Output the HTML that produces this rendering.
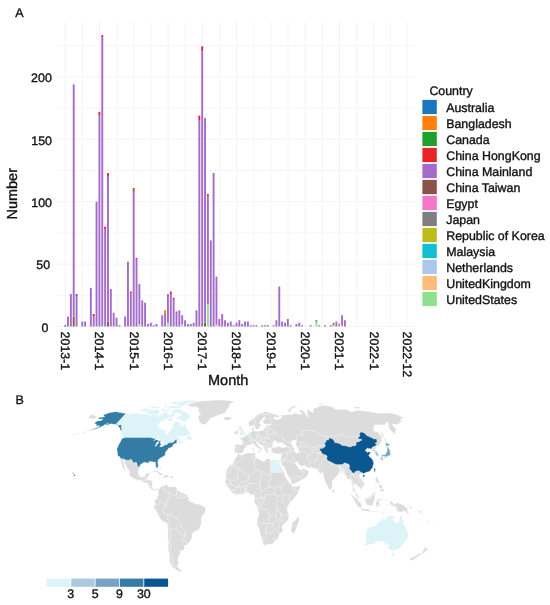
<!DOCTYPE html>
<html><head><meta charset="utf-8"><style>
html,body{margin:0;padding:0;background:#fff;}
svg{display:block;}
text{font-family:"Liberation Sans",Arial,sans-serif;fill:#111;stroke:#111;stroke-width:0.35px;text-rendering:geometricPrecision;}
</style></head><body>
<svg width="550" height="605" viewBox="0 0 550 605">
<rect width="550" height="605" fill="#fff"/>
<line x1="57.0" x2="415.0" y1="326.5" y2="326.5" stroke="#f3f3f3" stroke-width="1"/>
<line x1="57.0" x2="415.0" y1="295.3" y2="295.3" stroke="#f6f6f6" stroke-width="1"/>
<line x1="57.0" x2="415.0" y1="264.1" y2="264.1" stroke="#f3f3f3" stroke-width="1"/>
<line x1="57.0" x2="415.0" y1="232.9" y2="232.9" stroke="#f6f6f6" stroke-width="1"/>
<line x1="57.0" x2="415.0" y1="201.7" y2="201.7" stroke="#f3f3f3" stroke-width="1"/>
<line x1="57.0" x2="415.0" y1="170.5" y2="170.5" stroke="#f6f6f6" stroke-width="1"/>
<line x1="57.0" x2="415.0" y1="139.3" y2="139.3" stroke="#f3f3f3" stroke-width="1"/>
<line x1="57.0" x2="415.0" y1="108.1" y2="108.1" stroke="#f6f6f6" stroke-width="1"/>
<line x1="57.0" x2="415.0" y1="76.9" y2="76.9" stroke="#f3f3f3" stroke-width="1"/>
<line x1="57.0" x2="415.0" y1="45.7" y2="45.7" stroke="#f6f6f6" stroke-width="1"/>
<line x1="65.4" x2="65.4" y1="21.5" y2="326.5" stroke="#f3f3f3" stroke-width="1"/>
<line x1="99.66" x2="99.66" y1="21.5" y2="326.5" stroke="#f3f3f3" stroke-width="1"/>
<line x1="133.92" x2="133.92" y1="21.5" y2="326.5" stroke="#f3f3f3" stroke-width="1"/>
<line x1="168.18" x2="168.18" y1="21.5" y2="326.5" stroke="#f3f3f3" stroke-width="1"/>
<line x1="202.44" x2="202.44" y1="21.5" y2="326.5" stroke="#f3f3f3" stroke-width="1"/>
<line x1="236.7" x2="236.7" y1="21.5" y2="326.5" stroke="#f3f3f3" stroke-width="1"/>
<line x1="270.96" x2="270.96" y1="21.5" y2="326.5" stroke="#f3f3f3" stroke-width="1"/>
<line x1="305.22" x2="305.22" y1="21.5" y2="326.5" stroke="#f3f3f3" stroke-width="1"/>
<line x1="339.48" x2="339.48" y1="21.5" y2="326.5" stroke="#f3f3f3" stroke-width="1"/>
<line x1="373.74" x2="373.74" y1="21.5" y2="326.5" stroke="#f3f3f3" stroke-width="1"/>
<line x1="407.1" x2="407.1" y1="21.5" y2="326.5" stroke="#f3f3f3" stroke-width="1"/>
<line x1="82.53" x2="82.53" y1="21.5" y2="326.5" stroke="#f6f6f6" stroke-width="1"/>
<line x1="116.79" x2="116.79" y1="21.5" y2="326.5" stroke="#f6f6f6" stroke-width="1"/>
<line x1="151.05" x2="151.05" y1="21.5" y2="326.5" stroke="#f6f6f6" stroke-width="1"/>
<line x1="185.31" x2="185.31" y1="21.5" y2="326.5" stroke="#f6f6f6" stroke-width="1"/>
<line x1="219.57" x2="219.57" y1="21.5" y2="326.5" stroke="#f6f6f6" stroke-width="1"/>
<line x1="253.83" x2="253.83" y1="21.5" y2="326.5" stroke="#f6f6f6" stroke-width="1"/>
<line x1="288.09" x2="288.09" y1="21.5" y2="326.5" stroke="#f6f6f6" stroke-width="1"/>
<line x1="322.35" x2="322.35" y1="21.5" y2="326.5" stroke="#f6f6f6" stroke-width="1"/>
<line x1="356.61" x2="356.61" y1="21.5" y2="326.5" stroke="#f6f6f6" stroke-width="1"/>
<line x1="390.42" x2="390.42" y1="21.5" y2="326.5" stroke="#f6f6f6" stroke-width="1"/>
<rect x="64.2" y="325.25" width="1.9" height="1.25" fill="#1a76bd"/>
<rect x="67.05" y="316.52" width="1.9" height="9.98" fill="#a46bcb"/>
<rect x="69.91" y="294.05" width="1.9" height="32.45" fill="#a46bcb"/>
<rect x="72.76" y="316.52" width="1.9" height="9.98" fill="#8c5249"/>
<rect x="72.76" y="84.39" width="1.9" height="232.13" fill="#a46bcb"/>
<rect x="75.62" y="295.92" width="1.9" height="30.58" fill="#a46bcb"/>
<rect x="75.62" y="294.05" width="1.9" height="1.87" fill="#1a76bd"/>
<rect x="81.33" y="321.51" width="1.9" height="4.99" fill="#a46bcb"/>
<rect x="84.18" y="321.51" width="1.9" height="4.99" fill="#a46bcb"/>
<rect x="89.89" y="287.81" width="1.9" height="38.69" fill="#a46bcb"/>
<rect x="92.75" y="316.52" width="1.9" height="9.98" fill="#a46bcb"/>
<rect x="92.75" y="314.02" width="1.9" height="2.5" fill="#e8232a"/>
<rect x="95.6" y="201.7" width="1.9" height="124.8" fill="#a46bcb"/>
<rect x="98.46" y="115.59" width="1.9" height="210.91" fill="#a46bcb"/>
<rect x="98.46" y="111.84" width="1.9" height="3.74" fill="#e8232a"/>
<rect x="101.31" y="325.25" width="1.9" height="1.25" fill="#12bfd2"/>
<rect x="101.31" y="36.96" width="1.9" height="288.29" fill="#a46bcb"/>
<rect x="101.31" y="35.09" width="1.9" height="1.87" fill="#e8232a"/>
<rect x="104.17" y="229.16" width="1.9" height="97.34" fill="#a46bcb"/>
<rect x="104.17" y="226.66" width="1.9" height="2.5" fill="#e8232a"/>
<rect x="107.02" y="321.51" width="1.9" height="4.99" fill="#8c5249"/>
<rect x="107.02" y="176.74" width="1.9" height="144.77" fill="#a46bcb"/>
<rect x="107.02" y="173" width="1.9" height="3.74" fill="#e8232a"/>
<rect x="109.88" y="289.06" width="1.9" height="37.44" fill="#a46bcb"/>
<rect x="112.73" y="312.77" width="1.9" height="13.73" fill="#a46bcb"/>
<rect x="115.59" y="317.76" width="1.9" height="8.74" fill="#a46bcb"/>
<rect x="118.44" y="325.25" width="1.9" height="1.25" fill="#a46bcb"/>
<rect x="124.15" y="316.52" width="1.9" height="9.98" fill="#a46bcb"/>
<rect x="127.01" y="261.6" width="1.9" height="64.9" fill="#a46bcb"/>
<rect x="129.87" y="293.43" width="1.9" height="33.07" fill="#a46bcb"/>
<rect x="129.87" y="291.56" width="1.9" height="1.87" fill="#e8232a"/>
<rect x="132.72" y="191.72" width="1.9" height="134.78" fill="#a46bcb"/>
<rect x="132.72" y="189.22" width="1.9" height="2.5" fill="#e8232a"/>
<rect x="132.72" y="187.97" width="1.9" height="1.25" fill="#1fa02c"/>
<rect x="135.57" y="259.11" width="1.9" height="67.39" fill="#a46bcb"/>
<rect x="135.57" y="257.86" width="1.9" height="1.25" fill="#e8232a"/>
<rect x="138.43" y="324" width="1.9" height="2.5" fill="#8ee08e"/>
<rect x="138.43" y="284.07" width="1.9" height="39.94" fill="#a46bcb"/>
<rect x="141.28" y="300.29" width="1.9" height="26.21" fill="#a46bcb"/>
<rect x="144.14" y="302.79" width="1.9" height="23.71" fill="#a46bcb"/>
<rect x="147" y="324" width="1.9" height="2.5" fill="#a46bcb"/>
<rect x="149.85" y="322.76" width="1.9" height="3.74" fill="#a46bcb"/>
<rect x="152.7" y="325.25" width="1.9" height="1.25" fill="#a46bcb"/>
<rect x="155.56" y="324" width="1.9" height="2.5" fill="#a46bcb"/>
<rect x="161.27" y="315.27" width="1.9" height="11.23" fill="#a46bcb"/>
<rect x="164.12" y="314.02" width="1.9" height="12.48" fill="#a46bcb"/>
<rect x="164.12" y="310.28" width="1.9" height="3.74" fill="#ff7f0e"/>
<rect x="166.98" y="322.76" width="1.9" height="3.74" fill="#8ee08e"/>
<rect x="166.98" y="294.05" width="1.9" height="28.7" fill="#a46bcb"/>
<rect x="169.84" y="294.05" width="1.9" height="32.45" fill="#a46bcb"/>
<rect x="169.84" y="291.56" width="1.9" height="2.5" fill="#e8232a"/>
<rect x="172.69" y="299.04" width="1.9" height="27.46" fill="#a46bcb"/>
<rect x="172.69" y="297.8" width="1.9" height="1.25" fill="#e8232a"/>
<rect x="175.55" y="312.77" width="1.9" height="13.73" fill="#a46bcb"/>
<rect x="175.55" y="311.52" width="1.9" height="1.25" fill="#e8232a"/>
<rect x="178.4" y="310.28" width="1.9" height="16.22" fill="#a46bcb"/>
<rect x="181.25" y="324" width="1.9" height="2.5" fill="#a9c8ec"/>
<rect x="181.25" y="315.27" width="1.9" height="8.74" fill="#a46bcb"/>
<rect x="184.11" y="320.26" width="1.9" height="6.24" fill="#a46bcb"/>
<rect x="186.97" y="324" width="1.9" height="2.5" fill="#a46bcb"/>
<rect x="189.82" y="324" width="1.9" height="2.5" fill="#a46bcb"/>
<rect x="192.68" y="322.76" width="1.9" height="3.74" fill="#a46bcb"/>
<rect x="195.53" y="310.28" width="1.9" height="16.22" fill="#a46bcb"/>
<rect x="198.38" y="120.58" width="1.9" height="205.92" fill="#a46bcb"/>
<rect x="198.38" y="115.59" width="1.9" height="4.99" fill="#e8232a"/>
<rect x="201.24" y="322.76" width="1.9" height="3.74" fill="#7f7f7f"/>
<rect x="201.24" y="51.32" width="1.9" height="271.44" fill="#a46bcb"/>
<rect x="201.24" y="46.32" width="1.9" height="4.99" fill="#e8232a"/>
<rect x="204.1" y="322.76" width="1.9" height="3.74" fill="#8c5249"/>
<rect x="204.1" y="118.08" width="1.9" height="204.67" fill="#a46bcb"/>
<rect x="206.95" y="304.04" width="1.9" height="22.46" fill="#8ee08e"/>
<rect x="206.95" y="196.71" width="1.9" height="107.33" fill="#a46bcb"/>
<rect x="206.95" y="194.21" width="1.9" height="2.5" fill="#e8232a"/>
<rect x="209.81" y="240.39" width="1.9" height="86.11" fill="#a46bcb"/>
<rect x="212.66" y="173" width="1.9" height="153.5" fill="#a46bcb"/>
<rect x="215.51" y="324.63" width="1.9" height="1.87" fill="#ffbb78"/>
<rect x="215.51" y="276.58" width="1.9" height="48.05" fill="#a46bcb"/>
<rect x="218.37" y="319.01" width="1.9" height="7.49" fill="#a46bcb"/>
<rect x="221.23" y="314.02" width="1.9" height="12.48" fill="#a46bcb"/>
<rect x="224.08" y="320.26" width="1.9" height="6.24" fill="#a46bcb"/>
<rect x="226.94" y="322.76" width="1.9" height="3.74" fill="#a46bcb"/>
<rect x="229.79" y="321.51" width="1.9" height="4.99" fill="#a46bcb"/>
<rect x="232.64" y="325.25" width="1.9" height="1.25" fill="#a46bcb"/>
<rect x="235.5" y="322.76" width="1.9" height="3.74" fill="#a46bcb"/>
<rect x="238.36" y="320.26" width="1.9" height="6.24" fill="#a46bcb"/>
<rect x="241.21" y="324" width="1.9" height="2.5" fill="#a46bcb"/>
<rect x="244.06" y="321.51" width="1.9" height="4.99" fill="#a46bcb"/>
<rect x="246.92" y="321.51" width="1.9" height="4.99" fill="#a46bcb"/>
<rect x="249.77" y="325.25" width="1.9" height="1.25" fill="#a46bcb"/>
<rect x="252.63" y="325.25" width="1.9" height="1.25" fill="#a46bcb"/>
<rect x="255.49" y="325.25" width="1.9" height="1.25" fill="#a46bcb"/>
<rect x="261.19" y="325.25" width="1.9" height="1.25" fill="#a46bcb"/>
<rect x="264.05" y="325.25" width="1.9" height="1.25" fill="#a46bcb"/>
<rect x="266.91" y="325.25" width="1.9" height="1.25" fill="#7f7f7f"/>
<rect x="272.62" y="325.25" width="1.9" height="1.25" fill="#a46bcb"/>
<rect x="275.47" y="320.26" width="1.9" height="6.24" fill="#a46bcb"/>
<rect x="278.32" y="286.56" width="1.9" height="39.94" fill="#a46bcb"/>
<rect x="281.18" y="321.51" width="1.9" height="4.99" fill="#a46bcb"/>
<rect x="284.04" y="322.76" width="1.9" height="3.74" fill="#a46bcb"/>
<rect x="286.89" y="319.01" width="1.9" height="7.49" fill="#a46bcb"/>
<rect x="289.75" y="325.25" width="1.9" height="1.25" fill="#a46bcb"/>
<rect x="295.45" y="324" width="1.9" height="2.5" fill="#a46bcb"/>
<rect x="298.31" y="322.76" width="1.9" height="3.74" fill="#a46bcb"/>
<rect x="301.17" y="325.25" width="1.9" height="1.25" fill="#a46bcb"/>
<rect x="309.73" y="325.25" width="1.9" height="1.25" fill="#a46bcb"/>
<rect x="315.44" y="322.13" width="1.9" height="4.37" fill="#8ee08e"/>
<rect x="315.44" y="321.51" width="1.9" height="0.62" fill="#a46bcb"/>
<rect x="315.44" y="320.26" width="1.9" height="1.25" fill="#1fa02c"/>
<rect x="318.3" y="325.25" width="1.9" height="1.25" fill="#a46bcb"/>
<rect x="324" y="325.25" width="1.9" height="1.25" fill="#a46bcb"/>
<rect x="329.71" y="325.25" width="1.9" height="1.25" fill="#a46bcb"/>
<rect x="332.57" y="325.25" width="1.9" height="1.25" fill="#bcbd1a"/>
<rect x="332.57" y="322.76" width="1.9" height="2.5" fill="#a46bcb"/>
<rect x="335.43" y="321.51" width="1.9" height="4.99" fill="#a46bcb"/>
<rect x="338.28" y="325.25" width="1.9" height="1.25" fill="#bcbd1a"/>
<rect x="338.28" y="323.75" width="1.9" height="1.5" fill="#a46bcb"/>
<rect x="341.13" y="325.25" width="1.9" height="1.25" fill="#bcbd1a"/>
<rect x="341.13" y="315.27" width="1.9" height="9.98" fill="#a46bcb"/>
<rect x="343.99" y="320.26" width="1.9" height="6.24" fill="#a46bcb"/>
<text x="44.9" y="331.83" text-anchor="middle" font-size="12.4">0</text>
<text x="43.25" y="269.43" text-anchor="middle" font-size="12.4">50</text>
<text x="41.6" y="207.03" text-anchor="middle" font-size="12.4">100</text>
<text x="41.6" y="144.63" text-anchor="middle" font-size="12.4">150</text>
<text x="41.45" y="82.23" text-anchor="middle" font-size="12.4">200</text>
<text transform="translate(61.16,331.6) rotate(90)" font-size="12.4">2013-1</text>
<text transform="translate(95.42,331.6) rotate(90)" font-size="12.4">2014-1</text>
<text transform="translate(129.68,331.6) rotate(90)" font-size="12.4">2015-1</text>
<text transform="translate(163.94,331.6) rotate(90)" font-size="12.4">2016-1</text>
<text transform="translate(198.2,331.6) rotate(90)" font-size="12.4">2017-1</text>
<text transform="translate(232.46,331.6) rotate(90)" font-size="12.4">2018-1</text>
<text transform="translate(266.72,331.6) rotate(90)" font-size="12.4">2019-1</text>
<text transform="translate(300.98,331.6) rotate(90)" font-size="12.4">2020-1</text>
<text transform="translate(335.24,331.6) rotate(90)" font-size="12.4">2021-1</text>
<text transform="translate(369.5,331.6) rotate(90)" font-size="12.4">2022-1</text>
<text transform="translate(402.86,331.6) rotate(90)" font-size="12.4">2022-12</text>
<text x="15.3" y="16.5" font-size="12.5">A</text>
<text transform="translate(16.8,193.8) rotate(-90)" text-anchor="middle" font-size="14.5">Number</text>
<text x="228.2" y="385.2" text-anchor="middle" font-size="14.5">Month</text>
<text x="429.4" y="95.2" font-size="12.4">Country</text>
<rect x="422.4" y="99.9" width="14.4" height="14.2" fill="#1a76bd"/>
<text x="446.2" y="112.36" font-size="12.4">Australia</text>
<rect x="422.4" y="115.9" width="14.4" height="14.2" fill="#ff7f0e"/>
<text x="446.2" y="128.36" font-size="12.4">Bangladesh</text>
<rect x="422.4" y="131.9" width="14.4" height="14.2" fill="#1fa02c"/>
<text x="446.2" y="144.36" font-size="12.4">Canada</text>
<rect x="422.4" y="147.9" width="14.4" height="14.2" fill="#e8232a"/>
<text x="446.2" y="160.36" font-size="12.4">China HongKong</text>
<rect x="422.4" y="163.9" width="14.4" height="14.2" fill="#a46bcb"/>
<text x="446.2" y="176.36" font-size="12.4">China Mainland</text>
<rect x="422.4" y="179.9" width="14.4" height="14.2" fill="#8c5249"/>
<text x="446.2" y="192.36" font-size="12.4">China Taiwan</text>
<rect x="422.4" y="195.9" width="14.4" height="14.2" fill="#f575c6"/>
<text x="446.2" y="208.36" font-size="12.4">Egypt</text>
<rect x="422.4" y="211.9" width="14.4" height="14.2" fill="#7f7f7f"/>
<text x="446.2" y="224.36" font-size="12.4">Japan</text>
<rect x="422.4" y="227.9" width="14.4" height="14.2" fill="#bcbd1a"/>
<text x="446.2" y="240.36" font-size="12.4">Republic of Korea</text>
<rect x="422.4" y="243.9" width="14.4" height="14.2" fill="#12bfd2"/>
<text x="446.2" y="256.36" font-size="12.4">Malaysia</text>
<rect x="422.4" y="259.9" width="14.4" height="14.2" fill="#a9c8ec"/>
<text x="446.2" y="272.36" font-size="12.4">Netherlands</text>
<rect x="422.4" y="275.9" width="14.4" height="14.2" fill="#ffbb78"/>
<text x="446.2" y="288.36" font-size="12.4">UnitedKingdom</text>
<rect x="422.4" y="291.9" width="14.4" height="14.2" fill="#8ee08e"/>
<text x="446.2" y="304.36" font-size="12.4">UnitedStates</text>
<path d="M120.7,458.7L120.7,460.0L121.0,461.9L122.1,464.5L121.8,466.0L123.3,468.1L124.0,469.7L125.1,471.1L125.7,470.3L125.1,469.3L124.6,467.7L124.1,464.9L123.9,462.8L122.7,460.9L122.8,459.6L124.2,460.2L124.7,463.2L125.6,465.1L126.6,467.5L127.7,468.4L129.2,470.7L129.5,472.9L129.2,474.8L130.3,476.1L133.0,478.0L135.1,479.2L138.2,480.4L139.9,479.9L141.5,480.5L142.7,481.9L144.0,482.7L146.1,483.2L147.4,483.6L147.9,484.0L148.7,485.1L149.5,486.4L149.2,487.7L150.1,488.0L151.7,489.8L153.3,490.0L155.5,491.0L155.1,489.9L156.1,489.1L157.8,489.9L158.3,491.6L158.2,493.5L158.2,495.4L156.6,498.6L155.3,499.5L154.3,501.8L155.3,503.4L155.0,505.0L153.9,506.6L154.3,508.2L156.1,510.8L158.6,515.3L160.1,517.9L161.7,520.5L165.8,522.8L167.3,524.1L167.6,526.3L168.1,532.7L167.6,536.6L168.6,541.8L168.3,545.6L168.2,549.5L169.3,554.0L169.7,557.2L169.4,561.0L171.1,564.7L173.2,567.8L175.8,569.6L178.2,571.1L181.0,571.9L182.3,570.8L179.3,569.0L178.5,567.8L177.6,566.6L177.9,564.7L178.9,561.6L177.1,560.3L178.6,558.4L178.4,555.9L179.8,555.6L179.1,554.6L180.5,553.0L180.3,550.8L184.3,550.1L184.5,547.6L184.0,545.6L185.5,545.5L188.0,544.3L190.1,541.1L192.2,537.2L191.9,534.0L195.9,530.5L198.6,530.0L200.2,526.6L201.4,523.0L201.2,517.2L203.2,514.7L205.0,512.7L205.5,509.7L205.0,507.3L201.3,505.3L198.6,504.3L194.7,503.7L190.8,501.8L188.6,500.5L188.6,498.2L187.5,495.4L186.4,494.4L183.1,493.0L179.8,491.8L177.1,489.6L175.7,486.8L173.4,486.8L169.0,486.9L166.9,485.1L165.1,484.5L164.1,485.4L162.2,486.0L160.7,487.1L159.7,488.5L158.6,489.5L156.7,488.3L155.0,489.0L153.9,489.0L152.4,487.7L151.7,486.4L152.1,484.5L152.6,481.3L150.8,480.1L147.5,480.2L147.3,479.3L147.7,476.8L148.7,475.5L149.8,472.9L148.5,472.9L145.9,473.5L145.4,475.5L144.1,476.8L141.3,477.1L139.8,476.4L138.9,475.1L138.4,472.9L138.3,471.0L138.9,469.0L139.6,467.2L137.6,466.4L137.0,464.1L136.3,462.2L134.9,462.3L134.0,463.2L132.9,462.3L131.6,459.6L129.8,459.6L129.6,460.2L126.6,460.2L123.1,458.7Z" fill="#dcdcdc" stroke="#ffffff" stroke-width="0.3" stroke-linejoin="round"/>
<path d="M204.4,424.5L206.0,423.7L208.5,420.8L211.0,418.0L214.7,416.8L218.6,415.0L223.1,413.5L225.7,412.5L226.1,410.3L228.0,408.3L229.6,406.3L229.5,404.3L231.3,402.9L235.2,401.5L229.5,400.8L222.6,400.0L215.4,400.1L207.8,400.8L200.2,401.2L195.9,402.0L193.0,402.9L188.2,404.3L188.0,405.8L192.1,406.7L196.8,406.7L198.5,408.3L198.4,410.3L199.1,412.5L201.0,414.1L198.1,416.3L198.2,418.5L199.0,420.2L199.6,422.5L201.5,423.7Z" fill="#dcdcdc" stroke="#ffffff" stroke-width="0.3" stroke-linejoin="round"/>
<path d="M224.6,419.9L223.2,418.0L225.1,417.0L230.2,416.8L231.4,418.0L231.3,419.1L228.1,420.3Z" fill="#dcdcdc" stroke="#ffffff" stroke-width="0.3" stroke-linejoin="round"/>
<path d="M151.8,472.4L153.1,471.3L155.3,470.8L157.5,471.0L160.0,472.5L161.8,473.4L163.4,474.6L162.4,475.0L159.4,475.0L159.2,473.9L157.2,472.5L155.2,472.0L152.4,472.5Z" fill="#dcdcdc" stroke="#ffffff" stroke-width="0.3" stroke-linejoin="round"/>
<path d="M162.7,476.9L164.8,475.0L167.8,475.1L169.5,476.6L167.6,477.1L165.8,477.9L162.7,477.4Z" fill="#dcdcdc" stroke="#ffffff" stroke-width="0.3" stroke-linejoin="round"/>
<path d="M158.4,477.0L160.0,476.8L160.8,477.4L159.3,477.7Z" fill="#dcdcdc" stroke="#ffffff" stroke-width="0.3" stroke-linejoin="round"/>
<path d="M160.4,466.0L161.4,466.4L160.6,468.4L159.7,468.4Z" fill="#dcdcdc" stroke="#ffffff" stroke-width="0.3" stroke-linejoin="round"/>
<path d="M234.7,452.9L234.3,450.6L235.0,447.1L235.0,445.8L234.6,445.2L236.0,444.3L238.5,444.5L240.5,444.7L242.2,444.7L242.8,443.3L242.8,441.4L241.9,439.9L239.6,439.0L239.4,438.2L241.1,437.9L242.5,438.1L242.8,436.7L244.2,437.1L245.6,435.2L246.4,435.0L247.5,434.5L248.4,432.8L249.3,432.2L250.7,432.1L252.1,431.6L252.5,430.5L251.7,429.6L251.6,428.1L253.7,427.0L253.8,428.8L253.7,430.2L254.5,431.4L256.8,431.0L257.8,431.6L261.5,430.5L263.8,430.2L263.6,428.4L264.4,427.2L266.3,427.8L266.5,426.0L265.5,425.2L269.6,424.9L271.3,424.3L268.5,423.7L264.9,424.3L263.4,423.1L262.9,420.8L265.4,418.5L266.2,418.0L263.1,417.6L262.9,419.1L260.8,420.2L259.7,422.0L259.6,423.7L261.2,424.5L260.5,425.5L259.4,427.8L259.0,428.8L257.6,429.0L256.0,429.6L255.7,428.4L254.6,426.0L253.6,425.1L251.4,426.6L250.0,426.3L249.1,425.5L248.5,423.1L248.9,421.4L251.1,420.2L253.2,419.1L254.8,417.4L256.4,415.7L257.6,414.6L259.9,413.2L263.2,412.5L265.3,411.7L267.2,411.9L269.9,412.7L271.7,413.7L274.3,414.0L279.1,415.7L278.7,417.4L273.8,416.8L273.8,419.1L276.6,419.7L279.5,419.1L282.1,417.4L281.3,414.6L283.2,415.2L288.9,414.6L293.0,414.3L294.2,413.2L300.8,414.6L301.7,413.0L299.2,411.4L300.8,409.8L302.8,410.3L304.0,411.9L306.3,414.6L306.9,416.8L308.4,416.3L307.3,414.1L307.1,410.9L308.6,409.3L310.0,410.9L313.4,413.0L313.1,408.8L318.8,406.7L324.3,405.1L332.1,406.7L335.3,409.3L340.6,409.8L345.8,409.3L351.6,411.9L358.2,410.3L367.6,411.4L378.0,413.3L386.0,413.0L391.3,413.2L395.9,414.2L399.5,415.7L403.1,417.6L403.3,418.5L401.4,418.8L400.5,419.1L401.7,421.4L399.9,422.2L398.5,424.3L393.0,424.3L392.4,424.5L393.4,426.6L396.5,429.0L395.2,430.8L395.3,434.9L392.9,432.7L389.5,429.0L388.8,426.6L388.3,423.1L386.5,422.2L384.5,424.9L379.8,424.7L374.5,425.0L373.6,427.2L373.9,431.4L377.7,432.1L381.1,436.4L381.8,438.2L381.2,441.4L380.0,444.5L378.4,445.4L377.1,445.8L375.7,446.1L376.0,447.7L374.8,449.7L376.7,451.6L378.7,454.2L379.0,455.2L377.4,456.0L376.2,456.1L375.6,454.2L375.0,452.0L373.2,451.8L372.5,450.9L372.6,449.7L371.3,449.1L369.1,448.4L368.9,450.3L368.6,448.4L367.4,448.0L366.4,449.3L365.1,450.3L366.3,451.6L367.3,452.6L368.5,451.8L370.8,452.4L369.4,454.2L368.6,455.4L370.8,458.0L372.8,459.7L372.8,460.9L373.6,462.0L373.6,463.8L372.8,466.4L372.6,467.7L371.3,469.0L370.1,471.0L367.8,471.9L367.0,472.0L364.5,472.9L363.7,474.2L363.1,472.9L361.8,472.8L359.9,474.2L359.3,476.1L360.5,478.0L362.4,480.0L364.2,483.2L364.4,485.1L362.7,487.1L361.7,488.3L360.1,489.5L359.7,487.4L358.3,486.9L357.0,485.1L355.3,484.2L354.0,483.2L354.2,485.1L353.6,487.7L355.0,489.9L355.3,491.6L357.0,492.7L358.7,495.4L359.6,498.7L358.9,498.9L356.4,496.9L355.2,495.4L354.8,492.2L352.8,490.5L352.8,487.7L352.3,485.1L350.9,479.3L349.1,479.0L347.6,480.0L346.8,476.5L344.6,473.9L343.5,472.0L342.2,472.4L340.6,472.5L338.5,472.9L338.2,474.8L336.7,475.7L334.2,479.3L332.1,480.4L332.4,483.8L332.1,487.3L330.6,489.1L329.8,490.1L328.6,489.1L327.5,485.8L326.3,483.8L324.6,480.0L323.4,476.1L323.1,473.5L322.6,472.0L320.7,473.8L318.8,471.9L318.1,470.3L316.2,468.6L312.9,468.0L310.3,468.1L306.9,467.6L305.1,465.8L304.3,465.5L301.9,466.3L299.1,464.6L297.3,461.6L295.5,461.9L295.2,463.2L297.1,466.0L298.7,468.4L299.6,469.7L302.3,469.4L304.2,467.3L304.9,469.0L307.2,470.2L308.8,471.6L307.7,474.2L307.1,476.1L305.2,477.7L301.3,480.5L297.9,481.9L293.6,484.1L291.9,484.2L291.1,481.9L290.6,479.3L287.6,474.8L286.3,472.2L285.6,469.7L283.8,467.1L281.4,464.5L281.3,462.6L281.2,462.6L280.2,460.2L280.8,458.0L281.4,455.4L281.4,453.5L279.4,453.8L277.8,454.0L275.7,453.6L273.1,453.1L272.2,452.2L271.3,450.9L271.2,449.0L271.1,448.4L273.6,447.5L276.1,447.3L279.5,446.5L282.7,447.7L286.2,447.1L286.1,445.8L283.1,443.3L281.5,442.6L280.0,442.3L277.6,443.3L276.5,442.3L277.3,441.4L274.8,440.6L274.3,440.7L273.6,442.4L272.8,443.9L272.4,446.5L273.5,447.6L270.8,447.9L268.5,448.1L267.5,448.6L267.2,449.0L267.7,450.3L268.8,451.3L267.8,452.2L267.4,453.6L266.5,453.1L265.9,451.6L264.9,449.7L263.8,448.0L263.8,446.5L262.2,445.6L260.1,444.5L258.5,442.6L257.7,441.8L256.3,442.3L256.5,443.7L257.7,444.5L258.7,446.2L260.3,447.1L262.9,448.8L261.4,448.4L261.0,449.7L261.6,450.3L260.5,451.6L260.1,451.2L260.2,449.7L258.8,448.2L257.3,447.3L255.7,445.9L254.6,445.2L254.3,444.0L252.9,443.4L251.6,444.2L250.1,445.1L248.6,444.7L247.1,445.2L247.3,446.5L244.8,447.7L243.7,449.7L244.2,450.6L243.3,452.1L242.0,453.1L239.4,453.4L238.2,454.2L237.5,453.1L236.4,452.6Z" fill="#dcdcdc" stroke="#ffffff" stroke-width="0.3" stroke-linejoin="round"/>
<path d="M238.3,433.6L238.1,431.6L238.8,430.8L238.2,430.0L237.0,429.9L236.0,431.1L234.5,432.1L234.9,433.3L234.1,434.0L235.8,434.5Z" fill="#dcdcdc" stroke="#ffffff" stroke-width="0.3" stroke-linejoin="round"/>
<path d="M286.9,411.4L288.7,409.8L291.2,406.7L296.9,405.8L295.4,407.3L290.9,409.3L290.4,411.9Z" fill="#dcdcdc" stroke="#ffffff" stroke-width="0.3" stroke-linejoin="round"/>
<path d="M317.4,404.3L319.6,403.4L323.1,403.8L320.9,404.8Z" fill="#dcdcdc" stroke="#ffffff" stroke-width="0.3" stroke-linejoin="round"/>
<path d="M353.0,407.8L355.7,406.7L361.1,407.3L358.1,408.8Z" fill="#dcdcdc" stroke="#ffffff" stroke-width="0.3" stroke-linejoin="round"/>
<path d="M391.7,411.9L392.3,411.4L393.1,412.0Z" fill="#dcdcdc" stroke="#ffffff" stroke-width="0.3" stroke-linejoin="round"/>
<path d="M92.2,414.2L93.7,415.0L95.1,416.0L96.6,416.5L97.3,417.3L95.4,418.0L92.8,419.1L91.4,418.8L90.8,418.2L88.9,418.0L86.9,418.5Z" fill="#dcdcdc" stroke="#ffffff" stroke-width="0.3" stroke-linejoin="round"/>
<path d="M385.2,441.4L386.1,440.4L383.7,437.6L383.2,435.1L379.2,431.0L380.6,433.9L382.9,437.6Z" fill="#dcdcdc" stroke="#ffffff" stroke-width="0.3" stroke-linejoin="round"/>
<path d="M332.2,488.0L334.7,491.2L333.8,492.8L332.6,492.8L332.2,490.3Z" fill="#dcdcdc" stroke="#ffffff" stroke-width="0.3" stroke-linejoin="round"/>
<path d="M277.8,455.4L280.1,454.5L279.4,455.6L278.0,455.8Z" fill="#dcdcdc" stroke="#ffffff" stroke-width="0.3" stroke-linejoin="round"/>
<path d="M268.5,454.8L271.5,455.1L269.6,455.4Z" fill="#dcdcdc" stroke="#ffffff" stroke-width="0.3" stroke-linejoin="round"/>
<path d="M256.8,451.6L260.1,451.2L259.7,453.3Z" fill="#dcdcdc" stroke="#ffffff" stroke-width="0.3" stroke-linejoin="round"/>
<path d="M252.4,447.7L253.8,447.7L253.9,450.2L252.7,450.3Z" fill="#dcdcdc" stroke="#ffffff" stroke-width="0.3" stroke-linejoin="round"/>
<path d="M252.7,445.3L253.5,445.2L253.7,447.2L253.0,447.0Z" fill="#dcdcdc" stroke="#ffffff" stroke-width="0.3" stroke-linejoin="round"/>
<path d="M278.6,462.0L281.2,462.6L280.2,460.2L278.2,460.4L275.8,460.1L270.7,459.8L268.3,458.5L265.1,459.3L265.2,460.9L263.1,461.3L260.4,460.0L257.7,458.2L255.8,457.8L254.5,456.5L255.5,454.8L254.6,452.6L253.9,452.5L250.8,452.9L247.1,453.1L243.0,454.5L241.9,455.3L238.4,454.3L237.6,454.5L236.2,457.3L233.8,461.4L233.4,463.2L230.1,465.0L228.5,467.1L226.8,469.7L225.6,473.5L226.4,475.5L226.0,479.3L224.8,481.7L225.5,483.2L225.6,485.1L227.5,486.4L229.1,488.3L230.2,490.9L231.8,492.2L234.1,494.1L235.7,494.9L238.5,494.0L241.8,494.4L245.1,492.8L247.4,492.5L249.6,493.1L250.9,495.0L253.5,494.8L254.6,495.5L254.9,497.3L254.5,499.9L254.0,501.8L255.7,504.4L257.1,506.7L257.7,508.2L258.6,511.8L258.9,515.3L257.8,517.9L257.0,521.1L256.9,523.7L258.2,526.9L259.7,530.1L260.1,534.6L261.6,537.4L262.6,540.5L263.2,543.7L263.4,544.7L264.9,545.4L267.1,544.3L270.8,544.3L272.4,543.7L275.8,540.5L278.7,537.2L279.3,534.0L282.4,531.4L282.5,528.8L281.8,526.3L284.2,523.7L288.5,519.8L288.7,514.7L287.4,510.8L287.2,508.2L288.2,505.7L290.1,502.7L292.3,499.9L295.1,497.3L297.2,494.1L298.8,490.3L300.6,485.4L298.1,486.0L293.7,487.1L291.8,485.6L290.8,483.8L287.9,480.6L286.7,478.7L285.0,476.8L284.6,473.5L282.6,470.3L281.1,467.1L279.9,465.1Z" fill="#dcdcdc" stroke="#ffffff" stroke-width="0.3" stroke-linejoin="round"/>
<path d="M298.4,516.0L299.4,520.5L298.2,523.0L296.1,528.8L294.6,532.7L292.4,533.4L291.3,530.8L291.0,528.2L292.3,525.6L292.2,522.4L294.8,520.8L296.8,518.5Z" fill="#dcdcdc" stroke="#ffffff" stroke-width="0.3" stroke-linejoin="round"/>
<path d="M375.7,476.8L377.6,476.8L377.8,480.0L380.4,483.2L377.6,482.8L376.4,481.9L375.3,479.6Z" fill="#dcdcdc" stroke="#ffffff" stroke-width="0.3" stroke-linejoin="round"/>
<path d="M379.1,491.6L384.1,491.6L383.2,488.3L380.6,489.6Z" fill="#dcdcdc" stroke="#ffffff" stroke-width="0.3" stroke-linejoin="round"/>
<path d="M378.5,485.4L381.7,484.5L382.6,487.7L380.0,488.7Z" fill="#dcdcdc" stroke="#ffffff" stroke-width="0.3" stroke-linejoin="round"/>
<path d="M376.4,483.2L377.8,483.8L377.4,484.9Z" fill="#dcdcdc" stroke="#ffffff" stroke-width="0.3" stroke-linejoin="round"/>
<path d="M373.6,489.8L376.1,486.0L375.8,487.7Z" fill="#dcdcdc" stroke="#ffffff" stroke-width="0.3" stroke-linejoin="round"/>
<path d="M349.6,493.4L352.7,495.4L355.5,498.0L359.4,501.8L361.6,504.4L361.2,508.0L359.8,508.1L357.1,505.7L355.5,502.5L353.3,498.6L351.6,496.0Z" fill="#dcdcdc" stroke="#ffffff" stroke-width="0.3" stroke-linejoin="round"/>
<path d="M360.5,509.3L362.0,508.2L364.2,508.9L366.9,508.9L368.9,509.5L370.7,510.6L370.5,511.7L366.8,511.1L363.5,510.6L361.3,510.0Z" fill="#dcdcdc" stroke="#ffffff" stroke-width="0.3" stroke-linejoin="round"/>
<path d="M365.0,498.6L366.1,498.4L367.7,497.2L369.3,496.4L372.0,493.9L373.5,491.6L376.2,493.6L374.8,495.0L374.9,499.3L374.4,499.9L373.3,503.1L372.9,505.7L371.0,505.7L368.2,504.9L366.2,504.3L366.1,502.5L365.0,500.5Z" fill="#dcdcdc" stroke="#ffffff" stroke-width="0.3" stroke-linejoin="round"/>
<path d="M376.4,507.6L377.5,507.6L377.4,504.4L378.7,506.3L380.7,505.7L379.3,504.4L378.8,501.8L380.5,501.6L378.3,499.9L381.6,499.9L382.7,498.6L378.0,498.9L376.9,500.5L375.8,503.7Z" fill="#dcdcdc" stroke="#ffffff" stroke-width="0.3" stroke-linejoin="round"/>
<path d="M389.4,502.2L390.5,501.2L392.7,501.8L393.7,504.8L397.1,502.7L400.4,503.9L404.2,505.4L405.8,507.6L407.6,508.2L407.2,510.8L409.6,513.8L407.4,513.6L405.5,511.5L403.3,510.6L402.1,512.1L399.9,512.2L397.8,511.1L396.6,511.3L396.6,507.2L393.7,506.2L391.5,505.7L390.4,504.1Z" fill="#dcdcdc" stroke="#ffffff" stroke-width="0.3" stroke-linejoin="round"/>
<path d="M380.9,513.6L382.2,512.1L384.8,511.3L382.7,512.7Z" fill="#dcdcdc" stroke="#ffffff" stroke-width="0.3" stroke-linejoin="round"/>
<path d="M371.2,511.8L372.3,511.2L375.6,511.5L379.0,511.2L380.0,511.5L375.6,512.0L372.8,512.1Z" fill="#dcdcdc" stroke="#ffffff" stroke-width="0.3" stroke-linejoin="round"/>
<path d="M385.5,498.6L386.6,499.3L386.0,501.2L385.5,500.5Z" fill="#dcdcdc" stroke="#ffffff" stroke-width="0.3" stroke-linejoin="round"/>
<path d="M386.0,504.4L389.1,504.8L387.6,505.2Z" fill="#dcdcdc" stroke="#ffffff" stroke-width="0.3" stroke-linejoin="round"/>
<path d="M408.6,507.6L412.0,506.3L412.4,507.6L410.2,508.5Z" fill="#dcdcdc" stroke="#ffffff" stroke-width="0.3" stroke-linejoin="round"/>
<path d="M417.3,509.5L421.0,511.5L422.3,514.0L419.7,512.7Z" fill="#dcdcdc" stroke="#ffffff" stroke-width="0.3" stroke-linejoin="round"/>
<path d="M422.5,526.5L425.0,529.2L423.6,528.6Z" fill="#dcdcdc" stroke="#ffffff" stroke-width="0.3" stroke-linejoin="round"/>
<path d="M437.9,523.0L439.4,522.8L438.7,524.1L437.7,523.8Z" fill="#dcdcdc" stroke="#ffffff" stroke-width="0.3" stroke-linejoin="round"/>
<path d="M426.8,519.8L427.8,520.5L428.1,522.4L427.0,521.5Z" fill="#dcdcdc" stroke="#ffffff" stroke-width="0.3" stroke-linejoin="round"/>
<path d="M424.8,544.9L425.6,546.9L425.9,548.2L428.5,549.1L425.7,551.2L423.0,554.0L421.9,553.7L422.5,551.4L424.1,549.5L424.9,546.3Z" fill="#dcdcdc" stroke="#ffffff" stroke-width="0.3" stroke-linejoin="round"/>
<path d="M420.4,552.7L421.1,554.2L418.2,556.5L414.9,558.4L412.0,560.5L409.6,559.7L411.4,557.8L416.6,555.3L419.3,553.3Z" fill="#dcdcdc" stroke="#ffffff" stroke-width="0.3" stroke-linejoin="round"/>
<path d="M290.9,443.1L291.4,441.9L292.6,440.6L295.0,440.1L296.5,440.5L297.1,442.3L295.4,443.3L297.3,446.5L298.3,449.0L299.8,452.2L296.9,453.3L294.7,452.1L294.4,448.8L292.7,446.5L292.0,445.2Z" fill="#ffffff" stroke="none" stroke-width="0" stroke-linejoin="round"/>
<path d="M242.0,455.3L242.2,456.7L242.8,459.2L240.1,460.7L238.7,461.9L234.8,463.6L234.7,464.9M229.9,464.9L234.7,464.9M234.7,464.9L234.7,467.1L231.1,467.1L231.1,470.3L229.9,471.2L229.9,473.1L225.6,473.1M234.7,465.4L238.9,468.4L245.3,473.5L247.6,476.1L248.6,475.9L250.4,475.6L252.2,473.7L256.9,470.3M238.9,468.4L237.5,474.8L238.0,479.5L231.5,480.5L230.6,481.7M225.9,479.9L228.7,479.2L230.6,481.7L231.5,484.6M225.6,484.6L228.9,484.4L231.5,484.6L234.7,485.9L235.7,487.4L238.0,487.2M227.5,486.4L228.9,484.4M229.4,488.9L231.7,487.7L232.4,489.6L231.3,491.6M232.4,489.6L234.6,490.7L235.7,494.9M234.6,490.7L235.7,487.4M248.6,475.9L247.9,480.8L245.5,480.9L244.2,481.4L241.8,482.3L240.7,483.1L239.2,484.5L238.0,487.2M238.0,487.2L240.7,486.7L240.9,488.3L241.3,490.3L240.8,494.1M240.7,486.7L244.0,486.4L245.0,486.4L246.7,485.3M244.0,486.4L244.6,490.3L245.4,492.7M245.0,486.4L245.8,489.0L245.8,492.6M244.2,481.4L245.0,483.5L246.7,485.3L248.0,485.5L249.5,482.8L252.8,483.6L255.0,483.5L257.8,483.7L259.0,483.1M248.0,485.5L247.0,489.0L247.0,492.3M259.0,483.1L260.8,478.7L261.3,474.3L260.3,471.0M256.9,470.3L259.2,471.6L260.3,471.0L270.2,475.5L270.2,474.8L271.2,474.8L271.1,472.2M256.1,457.9L254.9,460.0L254.1,461.6L254.8,467.1L254.8,468.4L256.9,470.3M252.9,453.0L252.6,456.1L251.9,457.4L254.1,461.6M270.4,459.8L271.1,472.2L284.0,472.2M270.2,475.5L270.4,480.4L268.8,482.6L268.3,484.2L269.2,485.9L270.0,487.7M259.0,483.1L260.0,485.1L260.6,487.7L259.5,488.3L261.2,490.9L263.9,490.3L265.0,489.0L267.2,488.3L269.2,486.7M260.0,485.1L259.0,487.1L257.5,489.8L255.7,491.8L253.6,494.6M270.0,487.7L272.2,487.3L274.4,488.2L277.2,487.7L279.8,485.1L281.6,488.3M284.1,482.2L283.2,485.1L282.1,487.7L281.6,489.6L280.5,490.3L281.1,492.2L282.8,494.1L283.8,494.6M283.8,494.6L286.2,495.9L287.8,496.0L289.5,495.4L290.6,495.1M290.6,495.1L292.8,494.3L297.0,490.3L292.7,489.0L291.5,486.5M284.1,482.2L285.8,481.9L288.0,482.2L289.7,483.8L290.7,484.5M289.5,495.4L289.5,502.7M281.8,501.8L285.6,504.4L287.5,506.6M281.8,501.8L282.3,499.3L282.8,495.4L283.8,494.6M278.2,496.0L281.7,495.7M274.4,494.1L278.2,496.0L277.1,499.3L276.9,502.2L276.2,504.3L276.4,506.3L276.9,508.5L278.1,511.2M264.7,496.0L265.6,494.1L269.5,494.8L272.3,493.9L274.4,494.1M269.2,486.7L270.0,487.7M274.4,494.1L274.4,488.2M278.1,511.2L275.5,511.5L275.6,515.6L276.9,516.2L276.5,517.8L274.3,516.3L272.7,514.7L270.5,514.7L268.3,514.7L268.3,512.1L267.3,509.5L262.3,509.5L261.8,508.0L257.7,508.2M264.7,496.0L263.8,501.8L261.8,503.7L261.2,506.1L257.7,507.0M254.9,497.6L256.6,497.7L258.5,497.6L261.8,498.2L264.7,496.0M256.6,497.7L257.9,501.2L260.1,503.1L257.1,505.4M261.8,498.2L260.7,494.8L261.2,490.9M256.9,522.8L258.8,522.4L264.8,523.4L267.0,523.7L269.5,523.2M268.2,517.2L268.1,521.5L269.5,523.2M270.5,514.7L270.4,517.2L268.2,517.2M267.0,523.7L266.8,528.8L265.7,528.8L265.6,532.3L265.4,537.1L261.6,537.4M265.6,532.3L268.8,533.1L271.4,533.6L273.2,531.4L275.9,529.1M269.5,523.2L271.7,523.4L272.9,525.6L273.9,526.9L275.9,529.1M271.7,523.4L274.7,521.7L277.3,520.6M277.3,520.6L280.1,522.0L279.4,525.6L278.7,528.8L277.9,529.4L278.5,532.1L279.3,535.2M277.3,520.6L280.0,518.0L280.7,516.0L280.5,512.6L278.1,511.2M280.5,512.6L282.1,515.3L285.4,515.4L288.6,513.9M282.1,515.3L282.7,519.2L282.7,522.4L280.3,519.2M272.7,539.2L274.9,537.9L275.3,539.8L273.7,540.2M236.4,452.6L236.8,450.9L236.9,449.0L237.1,446.6L235.7,446.3M242.2,444.7L244.7,445.4L247.3,445.9M246.4,435.0L248.1,436.4L249.7,437.0L252.0,437.6L251.5,439.4L250.7,439.6L250.0,441.1L251.0,442.0L251.6,444.2M249.8,435.4L250.0,436.2L249.7,437.0M251.5,439.4L253.4,439.4L254.4,440.4L256.2,439.2L256.9,439.5L257.5,437.9L255.8,436.0L258.3,435.2L258.1,433.9L257.6,432.3L257.8,431.6M250.7,439.6L251.0,441.5L252.5,441.1L254.4,440.4L256.3,440.6L257.7,441.8M257.5,437.9L258.7,437.6L260.6,438.1L260.8,438.9L260.4,440.4L259.9,440.7L257.7,441.8M255.8,436.0L258.3,435.2L260.0,435.9L262.4,437.0L266.1,437.5M260.6,438.1L262.4,437.0M260.8,438.9L262.6,439.1L265.7,438.4L266.1,437.5L267.3,435.5L266.7,433.9L266.3,431.6L265.6,431.1L263.8,430.2M265.7,438.4L264.9,441.0L263.4,441.1L262.7,441.5L260.4,440.4M265.7,438.4L267.6,439.0L270.1,438.6L272.0,440.7L272.1,442.0L273.6,442.4M264.9,441.0L266.1,443.1L267.0,443.9L269.2,444.3L271.1,443.8L272.8,443.9M267.0,443.9L266.7,446.1L267.4,447.3L270.7,446.8L272.4,446.5M270.7,446.8L270.8,447.9M263.8,446.5L264.8,446.2L265.5,448.2L264.9,449.7M266.7,446.1L264.8,446.2M259.9,440.7L262.7,441.5L263.4,442.8L263.1,443.9L262.7,445.8M263.4,442.8L266.1,443.1M266.3,431.6L268.2,431.2L269.0,429.4L270.4,428.9L269.6,427.1L269.1,425.7L269.6,424.9M263.6,428.4L266.4,428.7L269.0,429.4M266.5,426.8L269.4,427.1M266.7,433.9L270.0,434.5L274.6,433.8L276.1,433.5L278.3,435.7L281.0,436.5L283.0,436.9L283.5,439.5L281.8,440.0M270.4,428.9L274.4,431.7L274.6,433.8M267.3,435.5L270.1,438.5M269.6,424.9L271.3,424.3M271.3,424.3L272.0,420.9L269.9,419.1L269.6,415.5L268.2,414.1L268.7,413.2L269.9,412.7M268.2,414.1L265.9,414.5L264.0,415.2L261.7,414.1L261.1,414.0M261.1,414.0L259.3,414.6L257.8,416.3L256.6,418.0L255.0,419.7L254.7,421.4L255.3,423.1L254.5,424.9L254.2,425.5M266.2,418.0L264.7,416.8L264.0,415.2M283.5,439.5L286.9,442.0L291.1,443.1M286.1,445.8L288.3,447.6L289.8,447.3L291.4,447.7L293.3,446.7M288.3,447.6L289.9,449.4L290.8,450.3L293.2,449.7L294.0,451.1L294.7,452.1M281.4,453.1L283.4,453.1L285.5,452.7L288.0,452.7L290.4,452.6L289.9,449.4M288.0,452.7L287.2,456.0L285.1,458.9L283.1,460.0L281.4,458.8M290.4,452.6L291.5,455.4L292.6,458.0L294.6,460.6L295.5,461.9M281.4,458.8L281.3,462.6M285.1,458.9L288.5,460.5L291.6,462.9L293.6,463.1L295.2,463.2M282.3,462.8L283.9,461.9L284.2,460.0L285.1,458.9M299.6,469.7L300.3,471.0L303.9,471.3L304.2,469.7L304.2,467.3M303.9,471.3L303.9,474.8L300.8,476.1L301.3,480.5M290.9,479.5L292.7,478.2L295.5,478.8L297.5,476.6L300.8,476.1M290.9,443.1L291.6,440.7L292.6,440.6M296.5,440.5L296.3,437.6L297.3,435.6L300.1,435.1L303.0,435.4L303.1,433.9L301.5,433.4L301.9,431.4L305.4,430.7L308.9,429.9L313.7,431.4L316.1,431.4L318.2,434.5L321.4,435.4L324.2,435.1L326.8,436.6L329.1,437.6M329.1,437.6L331.3,435.7L333.0,435.4L335.9,436.4L338.9,436.6L338.6,433.9L342.3,434.5L344.0,436.0L346.9,436.0L349.9,437.2L352.3,437.1L355.2,436.1L357.6,436.6L358.6,437.0M298.1,447.1L300.9,447.3L300.0,442.6L302.3,442.0L305.2,443.4L306.5,444.5L308.9,444.4L309.7,445.4L311.0,446.5L313.3,447.7L314.2,447.1L315.9,446.1L318.4,445.8L319.8,445.4L322.8,445.4L325.4,446.5M299.8,452.2L301.3,451.6L303.2,451.6L305.1,452.4L306.8,453.4L307.8,454.7M307.8,454.7L309.2,455.1L311.1,453.8L312.8,452.4L314.5,452.9L316.4,452.0L318.1,452.9L319.2,452.9L321.2,452.9M312.8,452.4L311.7,449.7L309.2,447.7L306.6,447.3L304.9,446.5L303.2,445.6L301.0,447.3M311.7,449.7L313.8,449.7L315.2,449.0L316.6,448.8L319.4,449.7M314.2,447.1L315.9,447.7L316.6,448.8M307.8,454.7L307.6,456.1L307.7,458.0L308.4,460.0L309.5,460.6L309.5,462.2L311.6,462.6L314.5,462.0L314.4,460.6L317.0,460.0L317.5,457.0L318.3,456.1L318.3,453.5L321.2,452.9M309.5,462.2L308.9,463.2L309.8,465.1L311.6,466.3L310.3,468.1M317.0,460.0L319.0,459.6M321.2,452.9L322.4,453.5L325.1,454.8L325.6,456.1L324.6,458.5L323.4,459.1L322.9,460.6L322.2,462.6L321.0,464.5L318.9,465.1L318.6,466.4L319.3,467.7L319.0,469.3L318.1,470.3M329.0,461.5L330.4,463.8L333.9,465.4L336.3,466.3L338.6,466.6M338.6,466.6L339.1,465.4L339.8,465.1M339.8,465.1L341.0,466.0L342.6,466.0L342.3,464.6M349.4,469.7L348.0,464.8L346.3,463.2M343.8,466.4L345.7,465.1L348.0,464.8M344.3,471.6L345.0,469.7L345.8,468.6L346.1,466.0L347.8,465.1M349.4,469.7L350.6,469.7L351.9,472.1L352.8,472.9L353.7,473.1M352.8,472.9L354.3,475.5L353.8,476.8L356.1,477.5L358.3,478.0L359.9,481.3L360.0,482.3L357.2,482.2L357.0,485.1M354.3,473.3L355.1,471.6L356.1,474.2L357.8,474.8L357.5,476.1L359.2,476.8L361.2,479.3L362.1,481.3L361.6,482.3M360.0,482.3L361.6,482.3L362.4,484.5L359.9,487.1L359.7,487.4M353.0,487.1L353.3,481.3L351.9,479.3L350.5,476.8L350.7,474.8L353.0,474.2L354.3,475.5M355.1,492.2L356.1,492.8L357.0,492.7M358.6,437.0L362.2,440.1M329.1,437.6L326.8,436.6M375.1,445.9L376.1,445.8M371.3,449.1L372.6,447.1L373.9,446.5L375.1,445.9L375.7,446.1M375.0,452.0L376.4,450.9M165.1,484.5L164.0,486.4L163.9,489.0L164.3,491.6L166.5,491.6L169.3,492.8L169.2,495.7L169.7,498.6L166.9,499.3L166.9,501.8L166.4,505.9M169.3,492.8L172.0,495.4L173.1,495.4L173.6,496.0L174.4,495.4L176.4,494.8L177.0,493.9L176.0,493.0L177.1,489.6M177.7,490.3L176.5,491.6L177.0,493.9M177.0,493.9L177.5,498.0L178.0,498.9L180.8,498.2L181.9,498.1L184.1,497.7L186.4,497.3L187.5,495.4M180.8,498.2L180.9,492.8M184.1,497.7L184.2,493.2M156.4,498.6L158.6,500.0L160.5,500.7L160.3,502.5L157.0,506.3L155.0,505.0M166.4,505.9L163.7,507.0L163.2,509.5L162.1,510.2L163.9,512.7L165.1,513.4L166.2,514.7L167.9,514.7M166.9,501.8L163.1,503.7L166.4,505.9M167.9,514.7L168.2,516.6L167.7,519.2L168.3,520.5L167.9,522.8L168.1,523.7L167.3,524.1M167.9,514.7L171.1,513.1L172.0,514.7L173.5,516.6L176.9,517.9L178.2,519.8L179.9,521.5L180.6,523.0L181.3,525.0L180.6,526.0L176.8,525.7L176.2,529.1M168.1,523.7L169.4,525.6L170.2,528.2L171.5,529.9L173.5,528.8L176.2,529.1M170.2,528.2L170.1,531.4L170.9,535.3L170.0,537.9L170.2,541.8L170.9,545.6L170.7,549.5L171.2,553.3L171.9,557.2L172.8,561.0L172.6,563.5L173.3,565.3L174.7,566.6L177.9,567.6M176.2,529.1L178.2,531.2L181.1,533.4L181.9,535.7L184.4,535.8L185.3,533.5M180.6,526.0L183.3,529.2L184.7,531.4L185.4,531.4L185.3,533.5M185.3,533.5L186.4,535.4L184.2,536.8L182.9,539.4L184.7,540.3L187.9,544.0M182.9,539.4L182.6,541.8L182.8,544.3M142.7,481.9L142.8,481.3L143.5,479.9L144.9,479.9L145.2,477.7L146.6,477.7L147.6,476.8M146.6,477.7L146.2,480.1L147.3,480.4M146.2,480.1L145.9,482.0L145.7,482.6M145.9,482.0L147.3,482.7L147.4,483.3M147.9,484.0L149.5,482.7L150.7,481.8L152.6,481.3M149.5,486.4L151.3,486.5L151.7,486.4M152.2,489.9L152.7,488.3L152.9,488.3M158.3,491.6L157.8,491.3L158.6,489.5M165.9,475.2L165.7,477.4" fill="none" stroke="#ffffff" stroke-width="0.5" stroke-linejoin="round" opacity="0.85"/>
<path d="M125.8,413.4L128.4,414.2L130.7,413.5L132.4,413.5L136.3,413.0L138.3,413.5L139.9,413.7L142.9,414.1L145.3,414.2L147.3,414.9L150.6,415.0L152.5,414.7L154.5,414.3L158.0,415.4L160.7,415.2L162.2,414.9L163.9,413.5L164.2,411.9L166.1,411.0L167.0,411.4L167.3,412.8L167.5,413.8L168.9,414.3L169.4,414.9L171.2,414.6L172.8,413.3L174.6,413.2L175.3,414.1L174.4,415.7L172.4,417.1L169.9,416.8L167.3,419.1L164.0,420.2L160.5,422.5L158.2,424.3L157.7,425.7L158.1,427.8L161.7,429.0L164.1,430.0L166.7,430.1L165.4,432.8L166.9,434.8L167.9,434.5L169.3,431.4L172.4,428.4L173.1,426.4L172.0,425.8L173.7,424.0L174.3,421.5L177.9,421.7L179.7,422.9L180.9,423.1L180.4,425.5L181.9,426.3L185.1,423.9L186.6,427.2L186.5,429.0L187.7,429.6L189.5,431.4L190.6,433.6L189.1,434.6L185.8,436.1L179.9,436.1L176.4,438.2L173.8,440.1L177.0,437.7L181.0,437.6L180.2,439.1L179.6,440.7L182.7,442.0L184.4,441.4L183.1,442.6L180.4,443.3L177.6,444.5L179.7,442.3L177.6,442.4L177.0,442.9L176.5,441.8L177.0,440.1L176.7,439.7L175.8,439.5L174.4,440.9L173.2,442.3L172.6,442.6L169.0,442.8L167.6,443.7L167.0,444.4L164.4,444.8L164.1,445.7L162.0,446.2L160.0,446.8L159.8,446.2L160.8,445.2L161.7,442.6L161.0,441.4L160.6,440.9L160.0,440.6L157.6,438.6L156.0,438.9L154.6,438.6L151.4,438.0L151.2,437.1L150.9,437.6L123.9,437.6L123.6,437.5L123.3,436.6L122.4,435.7L120.8,435.1L121.5,433.3L120.8,432.1L121.4,430.6L121.6,430.2L122.3,429.1L121.5,429.0L121.4,426.0L120.7,424.5L118.2,425.5L117.7,424.3L116.2,423.9L125.8,413.4Z" fill="#dcf3f7" stroke="#ffffff" stroke-width="0.3" stroke-linejoin="round"/>
<path d="M123.0,438.5L121.7,437.9L119.8,435.4L121.1,435.5L122.5,436.7Z" fill="#dcf3f7" stroke="#ffffff" stroke-width="0.3" stroke-linejoin="round"/>
<path d="M185.6,439.4L188.8,439.4L191.5,440.5L192.2,439.4L191.8,437.4L190.0,436.5L190.6,434.4L188.6,435.5L185.8,438.2Z" fill="#dcf3f7" stroke="#ffffff" stroke-width="0.3" stroke-linejoin="round"/>
<path d="M185.9,422.0L183.1,421.0L180.9,420.1L179.2,419.1L176.0,419.3L175.8,418.0L181.5,415.2L180.3,413.5L177.2,413.0L170.9,412.5L170.7,411.4L175.4,409.3L179.6,409.1L182.0,410.3L185.8,412.5L187.8,413.5L190.8,416.3L191.0,416.8L188.2,418.5L186.1,420.2Z" fill="#dcf3f7" stroke="#ffffff" stroke-width="0.3" stroke-linejoin="round"/>
<path d="M145.9,412.0L145.8,413.1L147.8,413.8L150.3,414.3L152.7,414.5L155.0,414.2L158.3,413.8L159.8,412.8L159.6,411.4L158.8,410.3L158.8,409.3L157.1,409.0L154.6,410.0L152.2,409.9L149.0,410.3L147.1,410.7Z" fill="#dcf3f7" stroke="#ffffff" stroke-width="0.3" stroke-linejoin="round"/>
<path d="M141.5,411.0L142.3,411.8L144.7,411.5L146.7,410.7L148.6,409.9L150.6,409.5L150.1,408.7L147.9,408.5L144.3,408.5L142.2,409.8Z" fill="#dcf3f7" stroke="#ffffff" stroke-width="0.3" stroke-linejoin="round"/>
<path d="M181.7,406.4L179.0,406.4L174.0,406.3L176.2,405.0L178.8,404.6L178.7,403.8L175.0,402.9L178.3,401.9L185.4,400.8L190.1,400.4L197.3,400.4L199.3,400.9L197.0,401.6L192.5,402.6L188.8,403.6L186.3,404.3L183.7,405.3Z" fill="#dcf3f7" stroke="#ffffff" stroke-width="0.3" stroke-linejoin="round"/>
<path d="M168.1,407.3L170.6,408.1L176.1,408.3L179.8,408.2L180.8,407.3L179.7,406.5L175.2,406.3L171.8,406.1L168.7,406.5Z" fill="#dcf3f7" stroke="#ffffff" stroke-width="0.3" stroke-linejoin="round"/>
<path d="M168.2,419.1L169.7,418.0L171.4,417.3L172.0,417.7L172.6,419.1L173.3,419.9L172.0,420.2L169.5,421.6L168.3,420.6L167.9,419.9Z" fill="#dcf3f7" stroke="#ffffff" stroke-width="0.3" stroke-linejoin="round"/>
<path d="M151.2,407.6L153.2,408.4L157.2,408.0L160.3,407.6L160.6,406.7L158.1,406.2L155.4,406.4L152.9,406.3Z" fill="#dcf3f7" stroke="#ffffff" stroke-width="0.3" stroke-linejoin="round"/>
<path d="M164.4,411.1L162.1,410.9L161.1,410.0L163.1,409.0L165.6,408.9L165.6,410.0Z" fill="#dcf3f7" stroke="#ffffff" stroke-width="0.3" stroke-linejoin="round"/>
<path d="M166.6,410.9L169.8,410.3L171.2,409.0L167.8,408.7L166.5,409.8Z" fill="#dcf3f7" stroke="#ffffff" stroke-width="0.3" stroke-linejoin="round"/>
<path d="M166.5,407.8L164.0,407.5L164.0,406.5L166.7,406.2L168.3,406.5Z" fill="#dcf3f7" stroke="#ffffff" stroke-width="0.3" stroke-linejoin="round"/>
<path d="M176.4,404.3L174.3,404.5L171.7,404.0L170.9,402.9L173.5,402.2L176.6,401.8L177.3,402.5L178.7,403.4Z" fill="#dcf3f7" stroke="#ffffff" stroke-width="0.3" stroke-linejoin="round"/>
<path d="M159.9,414.4L161.4,414.7L163.5,414.2L163.7,413.2L161.7,413.1Z" fill="#dcf3f7" stroke="#ffffff" stroke-width="0.3" stroke-linejoin="round"/>
<path d="M147.7,406.7L151.9,406.4L154.4,405.6L152.6,405.4L148.7,405.8Z" fill="#dcf3f7" stroke="#ffffff" stroke-width="0.3" stroke-linejoin="round"/>
<path d="M163.2,405.3L166.5,405.0L168.2,404.0L165.3,403.9Z" fill="#dcf3f7" stroke="#ffffff" stroke-width="0.3" stroke-linejoin="round"/>
<path d="M167.2,407.9L169.5,408.0L170.4,407.4L168.1,407.3Z" fill="#dcf3f7" stroke="#ffffff" stroke-width="0.3" stroke-linejoin="round"/>
<path d="M169.7,421.3L171.0,421.4L171.7,420.8L170.5,420.6Z" fill="#dcf3f7" stroke="#ffffff" stroke-width="0.3" stroke-linejoin="round"/>
<path d="M121.7,438.4L123.2,438.6L123.9,437.6L150.9,437.6L151.2,437.1L151.4,438.0L154.6,438.6L156.0,438.9L157.6,438.6L160.0,440.6L160.6,440.9L161.0,441.4L161.7,442.6L160.8,445.2L159.8,446.2L160.0,446.8L162.0,446.2L164.1,445.7L164.4,444.8L167.0,444.4L167.6,443.7L169.0,442.8L172.6,442.6L173.2,442.3L174.4,440.9L175.8,439.5L176.7,439.7L177.0,440.1L176.5,441.8L177.0,442.9L175.3,443.5L173.6,444.3L172.6,445.6L173.0,446.7L171.3,447.2L168.6,448.2L168.3,449.0L167.0,450.4L166.3,450.9L165.3,452.6L165.2,455.2L164.1,455.8L162.4,456.9L160.8,457.8L158.7,459.3L157.7,461.3L158.0,463.8L158.3,466.2L157.5,468.1L156.7,468.2L156.2,466.9L155.6,464.9L155.8,463.2L154.8,461.8L153.2,462.3L152.3,461.4L150.7,461.4L148.9,461.6L148.8,463.2L147.7,463.1L145.9,462.4L144.1,462.3L142.9,462.9L140.6,464.5L139.8,465.4L139.6,467.2L137.6,466.4L137.0,464.1L136.3,462.2L134.9,462.3L134.0,463.2L132.9,462.3L131.6,459.6L129.8,459.6L129.6,460.2L126.6,460.2L123.1,458.7L120.7,458.7L119.8,456.7L117.9,456.1L117.5,453.4L117.5,451.8L116.9,450.3L116.9,448.5L118.1,446.5L118.4,445.2L120.9,441.0L121.7,438.4Z" fill="#337ca6" stroke="#ffffff" stroke-width="0.3" stroke-linejoin="round"/>
<path d="M125.8,413.4L116.2,423.9L117.7,424.3L118.2,425.5L120.7,424.5L121.4,426.0L121.5,429.0L122.3,429.1L121.6,430.2L120.2,430.2L120.1,428.4L119.1,427.2L118.3,426.4L117.0,424.6L115.0,424.3L113.2,424.3L111.4,423.7L109.6,424.3L107.2,424.9L105.4,425.2L106.9,423.7L109.0,422.9L106.1,424.0L103.5,425.5L101.8,426.6L98.5,428.1L95.7,429.1L92.2,429.9L88.2,431.0L90.8,429.9L94.8,428.5L98.4,427.1L100.0,425.8L98.7,425.7L95.6,425.8L96.6,424.3L94.7,423.7L95.2,422.9L94.9,422.4L97.4,421.1L99.5,420.7L101.7,420.2L102.9,419.1L101.1,419.1L98.5,419.0L98.0,417.9L100.6,417.2L102.5,417.3L104.8,416.5L104.0,415.6L102.8,414.9L107.3,413.5L109.1,412.7L114.1,411.9L115.0,411.5L117.3,412.0L119.7,412.5L122.9,413.0L125.8,413.4Z" fill="#337ca6" stroke="#ffffff" stroke-width="0.3" stroke-linejoin="round"/>
<path d="M74.1,474.3L75.5,475.2L74.2,476.5L73.7,475.6Z" fill="#337ca6" stroke="#ffffff" stroke-width="0.3" stroke-linejoin="round"/>
<path d="M72.1,472.5L74.0,473.1L74.4,473.9L72.6,473.5Z" fill="#337ca6" stroke="#ffffff" stroke-width="0.3" stroke-linejoin="round"/>
<path d="M170.6,476.8L172.4,476.9L172.2,477.4L170.6,477.4Z" fill="#337ca6" stroke="#ffffff" stroke-width="0.3" stroke-linejoin="round"/>
<path d="M86.1,431.6L86.9,431.3L86.6,432.1Z" fill="#337ca6" stroke="#ffffff" stroke-width="0.3" stroke-linejoin="round"/>
<path d="M82.3,432.7L84.8,431.9L84.1,432.4Z" fill="#337ca6" stroke="#ffffff" stroke-width="0.3" stroke-linejoin="round"/>
<path d="M77.6,433.6L79.8,433.3L78.4,433.9Z" fill="#337ca6" stroke="#ffffff" stroke-width="0.3" stroke-linejoin="round"/>
<path d="M73.5,434.0L75.2,433.9L74.1,434.4Z" fill="#337ca6" stroke="#ffffff" stroke-width="0.3" stroke-linejoin="round"/>
<path d="M152.8,440.5L156.0,439.0L157.9,437.9L159.3,438.0L160.4,439.5L160.1,440.7L158.3,440.7L156.7,439.7L154.3,440.6Z" fill="#ffffff" stroke="none" stroke-width="0" stroke-linejoin="round"/>
<path d="M154.9,446.5L155.6,444.5L156.6,442.6L158.2,441.5L159.4,441.6L158.4,443.3L157.1,444.5L156.4,446.2Z" fill="#ffffff" stroke="none" stroke-width="0" stroke-linejoin="round"/>
<path d="M159.9,441.5L161.0,441.5L163.0,441.5L164.0,442.3L163.1,443.3L162.0,443.9L160.9,445.2L160.8,443.9L160.5,442.9L159.7,441.9Z" fill="#ffffff" stroke="none" stroke-width="0" stroke-linejoin="round"/>
<path d="M159.3,446.8L161.2,447.0L164.1,445.8L164.0,445.3L162.1,445.8L160.3,446.5Z" fill="#ffffff" stroke="none" stroke-width="0" stroke-linejoin="round"/>
<path d="M163.6,444.8L165.4,444.7L167.2,444.5L167.4,443.8L166.2,443.9L164.3,444.3Z" fill="#ffffff" stroke="none" stroke-width="0" stroke-linejoin="round"/>
<path d="M365.6,534.3L367.1,528.8L367.8,528.6L370.2,527.2L373.6,526.3L375.9,525.6L377.9,522.4L379.2,522.4L381.3,519.6L383.7,518.3L385.1,519.7L386.2,519.6L387.1,517.2L388.4,516.2L390.1,515.3L391.2,515.7L393.9,516.0L394.7,516.3L393.3,518.5L392.8,519.8L394.2,521.1L396.1,522.9L398.0,522.9L399.3,520.5L400.0,516.6L401.3,514.3L402.1,516.6L402.0,519.2L403.6,519.8L403.3,522.4L403.6,525.0L405.9,526.8L406.6,529.2L407.3,531.2L408.7,533.4L407.8,537.4L406.0,540.5L403.9,543.1L402.0,545.0L399.2,548.9L396.3,549.5L394.5,550.9L393.4,549.8L391.7,550.5L389.1,549.5L388.6,548.2L387.8,546.4L388.8,545.2L388.7,543.1L386.2,545.4L385.3,545.0L385.1,542.8L383.0,541.1L379.2,541.4L375.7,542.4L373.5,544.2L369.8,544.3L367.3,545.6L365.2,545.5L364.4,544.7L365.5,543.1L366.3,541.1L366.2,539.2L366.2,537.2Z" fill="#dcf3f7" stroke="#ffffff" stroke-width="0.3" stroke-linejoin="round"/>
<path d="M391.7,553.0L395.2,553.2L393.8,555.3L391.8,556.7L391.2,554.9Z" fill="#dcf3f7" stroke="#ffffff" stroke-width="0.3" stroke-linejoin="round"/>
<path d="M270.4,459.8L274.7,460.7L278.2,460.4L280.2,460.2L281.2,462.6L278.6,462.0L279.9,465.1L281.1,467.1L282.6,470.3L284.0,472.2L278.2,472.2L271.1,472.2Z" fill="#dcf3f7" stroke="#ffffff" stroke-width="0.3" stroke-linejoin="round"/>
<path d="M339.6,472.2L340.6,472.5L342.2,472.4L343.5,472.0L344.3,473.5L344.3,471.6L343.7,469.7L343.1,468.4L340.9,468.1L340.5,467.1L339.0,466.4L339.5,468.4L339.0,469.3Z" fill="#dcf3f7" stroke="#ffffff" stroke-width="0.3" stroke-linejoin="round"/>
<path d="M238.5,436.4L241.1,435.6L245.3,435.0L245.7,433.2L244.3,432.2L243.7,431.2L242.6,429.9L242.2,429.0L242.4,427.1L241.3,425.9L239.4,425.9L238.3,427.9L238.9,429.6L239.4,430.5L241.0,431.0L241.2,432.2L239.6,432.3L240.2,433.3L239.0,434.3L240.9,434.6L239.7,435.1Z" fill="#dcf3f7" stroke="#ffffff" stroke-width="0.3" stroke-linejoin="round"/>
<path d="M238.1,431.6L238.8,430.8L238.2,430.0L237.2,430.0L236.4,431.0L237.4,431.3Z" fill="#dcf3f7" stroke="#ffffff" stroke-width="0.3" stroke-linejoin="round"/>
<path d="M247.5,434.5L248.4,432.8L249.3,432.2L250.7,432.1L250.7,433.6L249.9,434.1L249.8,435.4L249.6,434.9L248.4,434.6Z" fill="#dcf3f7" stroke="#ffffff" stroke-width="0.3" stroke-linejoin="round"/>
<path d="M355.1,492.2L356.1,492.8L357.0,492.7L358.7,495.4L359.6,498.7L358.9,498.9L356.4,496.9L355.2,495.4Z" fill="#dcf3f7" stroke="#ffffff" stroke-width="0.3" stroke-linejoin="round"/>
<path d="M365.6,498.1L366.1,498.4L367.7,497.2L369.3,496.4L372.0,493.9L373.5,491.6L376.2,493.6L374.8,495.0L374.4,495.1L372.4,495.0L371.6,497.3L370.5,498.7L368.3,498.6L367.2,499.3L365.6,499.3Z" fill="#dcf3f7" stroke="#ffffff" stroke-width="0.3" stroke-linejoin="round"/>
<path d="M375.0,452.0L376.4,450.9L378.7,454.2L379.0,455.2L377.4,456.0L376.2,456.1L375.6,454.2Z" fill="#aacade" stroke="#ffffff" stroke-width="0.3" stroke-linejoin="round"/>
<path d="M381.2,456.7L382.1,454.8L385.2,454.7L386.0,452.9L387.0,451.6L387.3,449.0L386.4,447.1L388.0,447.3L389.7,449.7L390.2,452.9L390.8,454.8L389.8,455.6L387.3,456.0L386.5,457.4L385.6,456.4L383.2,456.2L381.4,456.9Z" fill="#77a4c5" stroke="#ffffff" stroke-width="0.3" stroke-linejoin="round"/>
<path d="M380.3,457.4L382.1,457.4L383.0,460.0L382.2,460.6L380.7,458.5Z" fill="#77a4c5" stroke="#ffffff" stroke-width="0.3" stroke-linejoin="round"/>
<path d="M383.4,458.0L385.1,456.5L385.2,457.3L384.0,458.3Z" fill="#77a4c5" stroke="#ffffff" stroke-width="0.3" stroke-linejoin="round"/>
<path d="M386.4,447.1L385.9,445.2L385.4,442.0L388.0,443.7L390.6,444.7L389.5,445.3L386.8,446.1Z" fill="#77a4c5" stroke="#ffffff" stroke-width="0.3" stroke-linejoin="round"/>
<path d="M371.3,449.1L369.1,448.4L368.9,450.3L368.6,448.4L367.4,448.0L366.4,449.3L365.1,450.3L366.3,451.6L367.3,452.6L368.5,451.8L370.8,452.4L369.4,454.2L368.6,455.4L370.8,458.0L372.8,459.7L372.8,460.9L373.6,462.0L373.6,463.8L372.8,466.4L372.6,467.7L371.3,469.0L370.1,471.0L367.8,471.9L367.0,472.0L364.5,472.9L363.7,474.2L363.1,472.9L361.8,472.8L359.9,471.6L359.3,471.0L358.1,470.6L356.6,471.2L355.1,471.6L354.3,473.3L352.8,472.9L351.9,472.1L350.4,469.7L349.4,469.7L349.4,467.7L349.6,465.1L348.1,464.1L346.3,463.2L344.6,462.8L342.3,464.6L339.6,464.5L338.1,464.6L335.9,464.5L333.5,463.2L330.0,461.6L327.7,460.6L326.7,458.7L327.2,456.1L325.3,454.8L323.1,454.2L321.8,452.9L320.8,450.9L319.5,449.7L320.1,448.4L322.2,448.5L323.5,447.7L325.2,446.5L325.3,445.2L324.5,442.6L326.3,442.0L326.1,440.1L328.6,440.1L329.1,437.6L330.3,438.2L332.6,439.1L334.5,441.4L334.5,442.6L337.1,442.9L339.9,443.7L342.0,445.4L345.2,445.7L348.6,446.7L350.8,447.1L352.3,445.9L355.3,445.8L356.3,444.5L355.8,442.6L357.7,442.0L359.4,441.4L360.5,440.7L362.2,440.1L360.6,438.9L358.1,438.9L358.6,437.0L360.0,436.0L359.4,433.3L361.0,432.1L363.8,432.7L367.1,435.7L371.2,437.6L374.6,439.2L376.3,438.5L376.9,440.7L377.0,442.6L375.1,442.9L376.6,445.2L376.1,445.8L375.1,445.9L373.9,446.5L372.6,447.1Z" fill="#0b5791" stroke="#ffffff" stroke-width="0.3" stroke-linejoin="round"/>
<path d="M374.2,468.0L375.4,468.4L375.0,472.4L374.0,471.0Z" fill="#0b5791" stroke="#ffffff" stroke-width="0.3" stroke-linejoin="round"/>
<path d="M362.5,476.0L363.8,474.8L365.0,475.3L364.2,477.1L362.7,476.8Z" fill="#0b5791" stroke="#ffffff" stroke-width="0.3" stroke-linejoin="round"/>
<rect x="46.50" y="578.6" width="24.32" height="8.2" fill="#dcf3f7"/>
<rect x="70.82" y="578.6" width="24.32" height="8.2" fill="#aacade"/>
<rect x="95.14" y="578.6" width="24.32" height="8.2" fill="#77a4c5"/>
<rect x="119.46" y="578.6" width="24.32" height="8.2" fill="#337ca6"/>
<rect x="143.78" y="578.6" width="24.32" height="8.2" fill="#0b5791"/>
<line x1="70.82" x2="70.82" y1="578.6" y2="586.8000000000001" stroke="#fff" stroke-width="0.8"/>
<line x1="95.14" x2="95.14" y1="578.6" y2="586.8000000000001" stroke="#fff" stroke-width="0.8"/>
<line x1="119.46" x2="119.46" y1="578.6" y2="586.8000000000001" stroke="#fff" stroke-width="0.8"/>
<line x1="143.78" x2="143.78" y1="578.6" y2="586.8000000000001" stroke="#fff" stroke-width="0.8"/>
<text x="70.82" y="597.6" text-anchor="middle" font-size="12.4">3</text>
<text x="95.14" y="597.6" text-anchor="middle" font-size="12.4">5</text>
<text x="119.46" y="597.6" text-anchor="middle" font-size="12.4">9</text>
<text x="143.78" y="597.6" text-anchor="middle" font-size="12.4">30</text>
<text x="15.6" y="403.9" font-size="12.5">B</text>
</svg>
</body></html>
